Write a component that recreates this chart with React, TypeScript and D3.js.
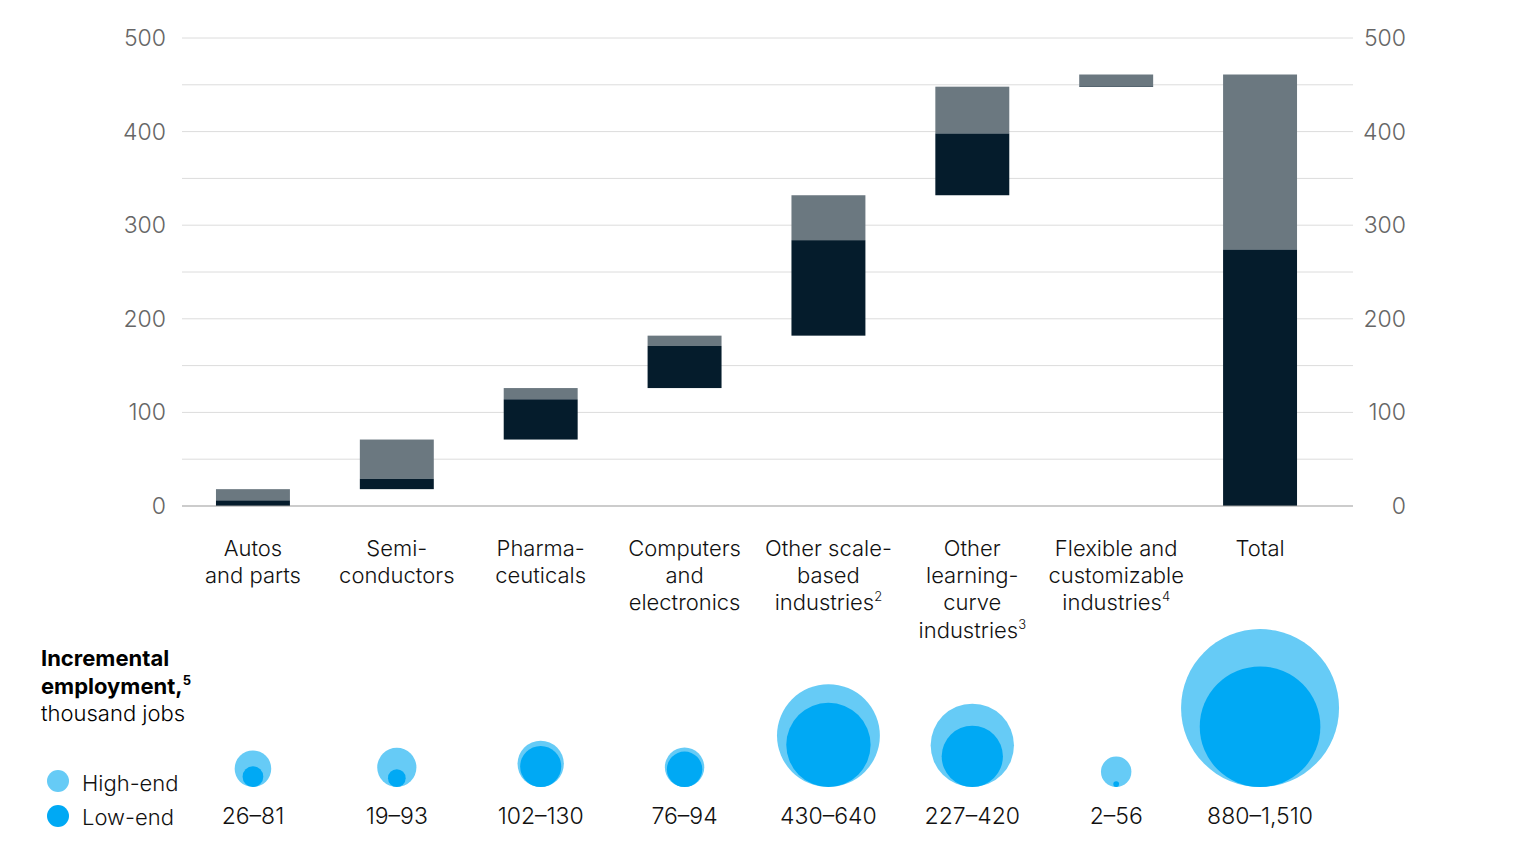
import * as d3 from 'd3';
import { useEffect, useRef } from 'react';

// categories and values
const categories = ['autos', 'semi', 'pharma', 'computers', 'scale', 'learning', 'flexible', 'total'];
const categoryLines = [
    ['Autos', 'and parts'],
    ['Semi-', 'conductors'],
    ['Pharma-', 'ceuticals'],
    ['Computers', 'and', 'electronics'],
    ['Other scale-', 'based', 'industries|2'],
    ['Other', 'learning-', 'curve', 'industries|3'],
    ['Flexible and', 'customizable', 'industries|4'],
    ['Total'],
];
// increments per industry (total is summed)
const lowEnd = [6, 11, 43, 45, 102, 66, 1];
const highEnd = [18, 53, 55, 56, 150, 116, 13];

const yTicks = [0, 100, 200, 300, 400, 500];

const jobsLow = [26, 19, 102, 76, 430, 227, 2, 880];
const jobsHigh = [81, 93, 130, 94, 640, 420, 56, 1510];
const jobsLabels = ['26–81', '19–93', '102–130', '76–94', '430–640', '227–420', '2–56', '880–1,510'];

const DARK = '#051c2c';
const GREY = '#6b7880';
const LIGHT_BLUE = '#66cbf6';
const BLUE = '#00a9f4';
const FONT = 'Inter, "Noto Sans", sans-serif';

export default function App() {
    const ref = useRef<SVGSVGElement | null>(null);

    useEffect(() => {
        const svg = d3.select(ref.current);
        svg.selectAll('*').remove();

        const width = 1536;
        const height = 864;
        const left = 182;
        const right = 1353;
        const top = 38;
        const bottom = 506;

        svg.attr('width', width).attr('height', height).style('font-family', FONT);

        const x = d3.scaleBand<string>()
            .domain(categories)
            .range([180, 1333])
            .paddingInner(0.486)
            .paddingOuter(0.25);

        const y = d3.scaleLinear().domain([0, 500]).range([bottom, top]);

        // waterfall rows: base is the running total of high-end
        const highCum = Array.from(d3.cumsum(highEnd));
        const rows = categories.map((c, i) => {
            if (c === 'total') {
                return { c, base: 0, low: d3.sum(lowEnd), high: d3.sum(highEnd) };
            }
            const base = i === 0 ? 0 : highCum[i - 1];
            return { c, base, low: base + lowEnd[i], high: highCum[i] };
        });

        // grid
        svg.append('g')
            .selectAll('line')
            .data(d3.range(50, 501, 50))
            .join('line')
            .attr('x1', left)
            .attr('x2', right)
            .attr('y1', d => y(d))
            .attr('y2', d => y(d))
            .attr('stroke', '#dcdcdc')
            .attr('stroke-width', 1);

        // bars
        const bars = svg.append('g');
        bars.selectAll('rect.high')
            .data(rows)
            .join('rect')
            .attr('class', 'high')
            .attr('x', d => x(d.c)!)
            .attr('width', x.bandwidth())
            .attr('y', d => y(d.high))
            .attr('height', d => y(d.low) - y(d.high))
            .attr('fill', GREY);
        bars.selectAll('rect.low')
            .data(rows)
            .join('rect')
            .attr('class', 'low')
            .attr('x', d => x(d.c)!)
            .attr('width', x.bandwidth())
            .attr('y', d => y(d.low))
            .attr('height', d => y(d.base) - y(d.low))
            .attr('fill', DARK);

        // baseline
        svg.append('line')
            .attr('x1', left)
            .attr('x2', right)
            .attr('y1', y(0))
            .attr('y2', y(0))
            .attr('stroke', '#999')
            .attr('stroke-width', 1.2);

        // tick labels on both sides
        const tickText = (xPos: number) => {
            svg.append('g')
                .selectAll('text')
                .data(yTicks)
                .join('text')
                .attr('x', xPos)
                .attr('y', d => y(d))
                .attr('dy', '0.35em')
                .attr('text-anchor', 'end')
                .attr('font-size', 23)
                .attr('font-weight', 300)
                .attr('fill', '#666')
                .text(d => d);
        };
        tickText(166);
        tickText(1406);

        // category labels
        const labels = svg.append('g');
        categories.forEach((c, i) => {
            const cx = x(c)! + x.bandwidth() / 2;
            categoryLines[i].forEach((line, j) => {
                const [txt, sup] = line.split('|');
                const t = labels.append('text')
                    .attr('x', cx)
                    .attr('y', 548 + j * 27.3)
                    .attr('dy', '0.35em')
                    .attr('text-anchor', 'middle')
                    .attr('font-size', 22)
                    .attr('font-weight', 300)
                    .attr('fill', '#111');
                t.append('tspan').text(txt);
                if (sup) {
                    t.append('tspan')
                        .attr('font-size', 13)
                        .attr('dy', '-0.7em')
                        .text(sup);
                }
            });
        });

        // bubbles: area proportional to jobs, bottom aligned
        const r = d3.scaleSqrt().domain([0, 1510]).range([0, 79]);
        const bubbleBase = 787;
        const bubbles = svg.append('g');
        categories.forEach((c, i) => {
            const cx = x(c)! + x.bandwidth() / 2;
            bubbles.append('circle')
                .attr('cx', cx)
                .attr('cy', bubbleBase - r(jobsHigh[i]))
                .attr('r', r(jobsHigh[i]))
                .attr('fill', LIGHT_BLUE);
            bubbles.append('circle')
                .attr('cx', cx)
                .attr('cy', bubbleBase - r(jobsLow[i]))
                .attr('r', r(jobsLow[i]))
                .attr('fill', BLUE);
            bubbles.append('text')
                .attr('x', cx)
                .attr('y', 816)
                .attr('dy', '0.35em')
                .attr('text-anchor', 'middle')
                .attr('font-size', 23)
                .attr('font-weight', 300)
                .attr('fill', '#111')
                .text(jobsLabels[i]);
        });

        // bubble title
        const title = svg.append('g').attr('fill', '#000');
        title.append('text')
            .attr('x', 41).attr('y', 658).attr('dy', '0.35em')
            .attr('font-size', 22).attr('font-weight', 700)
            .text('Incremental');
        const t2 = title.append('text')
            .attr('x', 41).attr('y', 686).attr('dy', '0.35em')
            .attr('font-size', 22).attr('font-weight', 700);
        t2.append('tspan').text('employment,');
        t2.append('tspan').attr('font-size', 13).attr('dy', '-0.7em').text('5');
        title.append('text')
            .attr('x', 41).attr('y', 713).attr('dy', '0.35em')
            .attr('font-size', 22).attr('font-weight', 300)
            .text('thousand jobs');

        // legend
        const legend = [
            { label: 'High-end', color: LIGHT_BLUE },
            { label: 'Low-end', color: BLUE },
        ];
        const lg = svg.append('g');
        legend.forEach((l, i) => {
            lg.append('circle')
                .attr('cx', 58).attr('cy', 781 + i * 35).attr('r', 11)
                .attr('fill', l.color);
            lg.append('text')
                .attr('x', 82).attr('y', 783 + i * 34).attr('dy', '0.35em')
                .attr('font-size', 22).attr('font-weight', 300).attr('fill', '#111')
                .text(l.label);
        });
    }, []);

    return <svg ref={ref} style={{ display: 'block', margin: '-8px' }}></svg>;
}
